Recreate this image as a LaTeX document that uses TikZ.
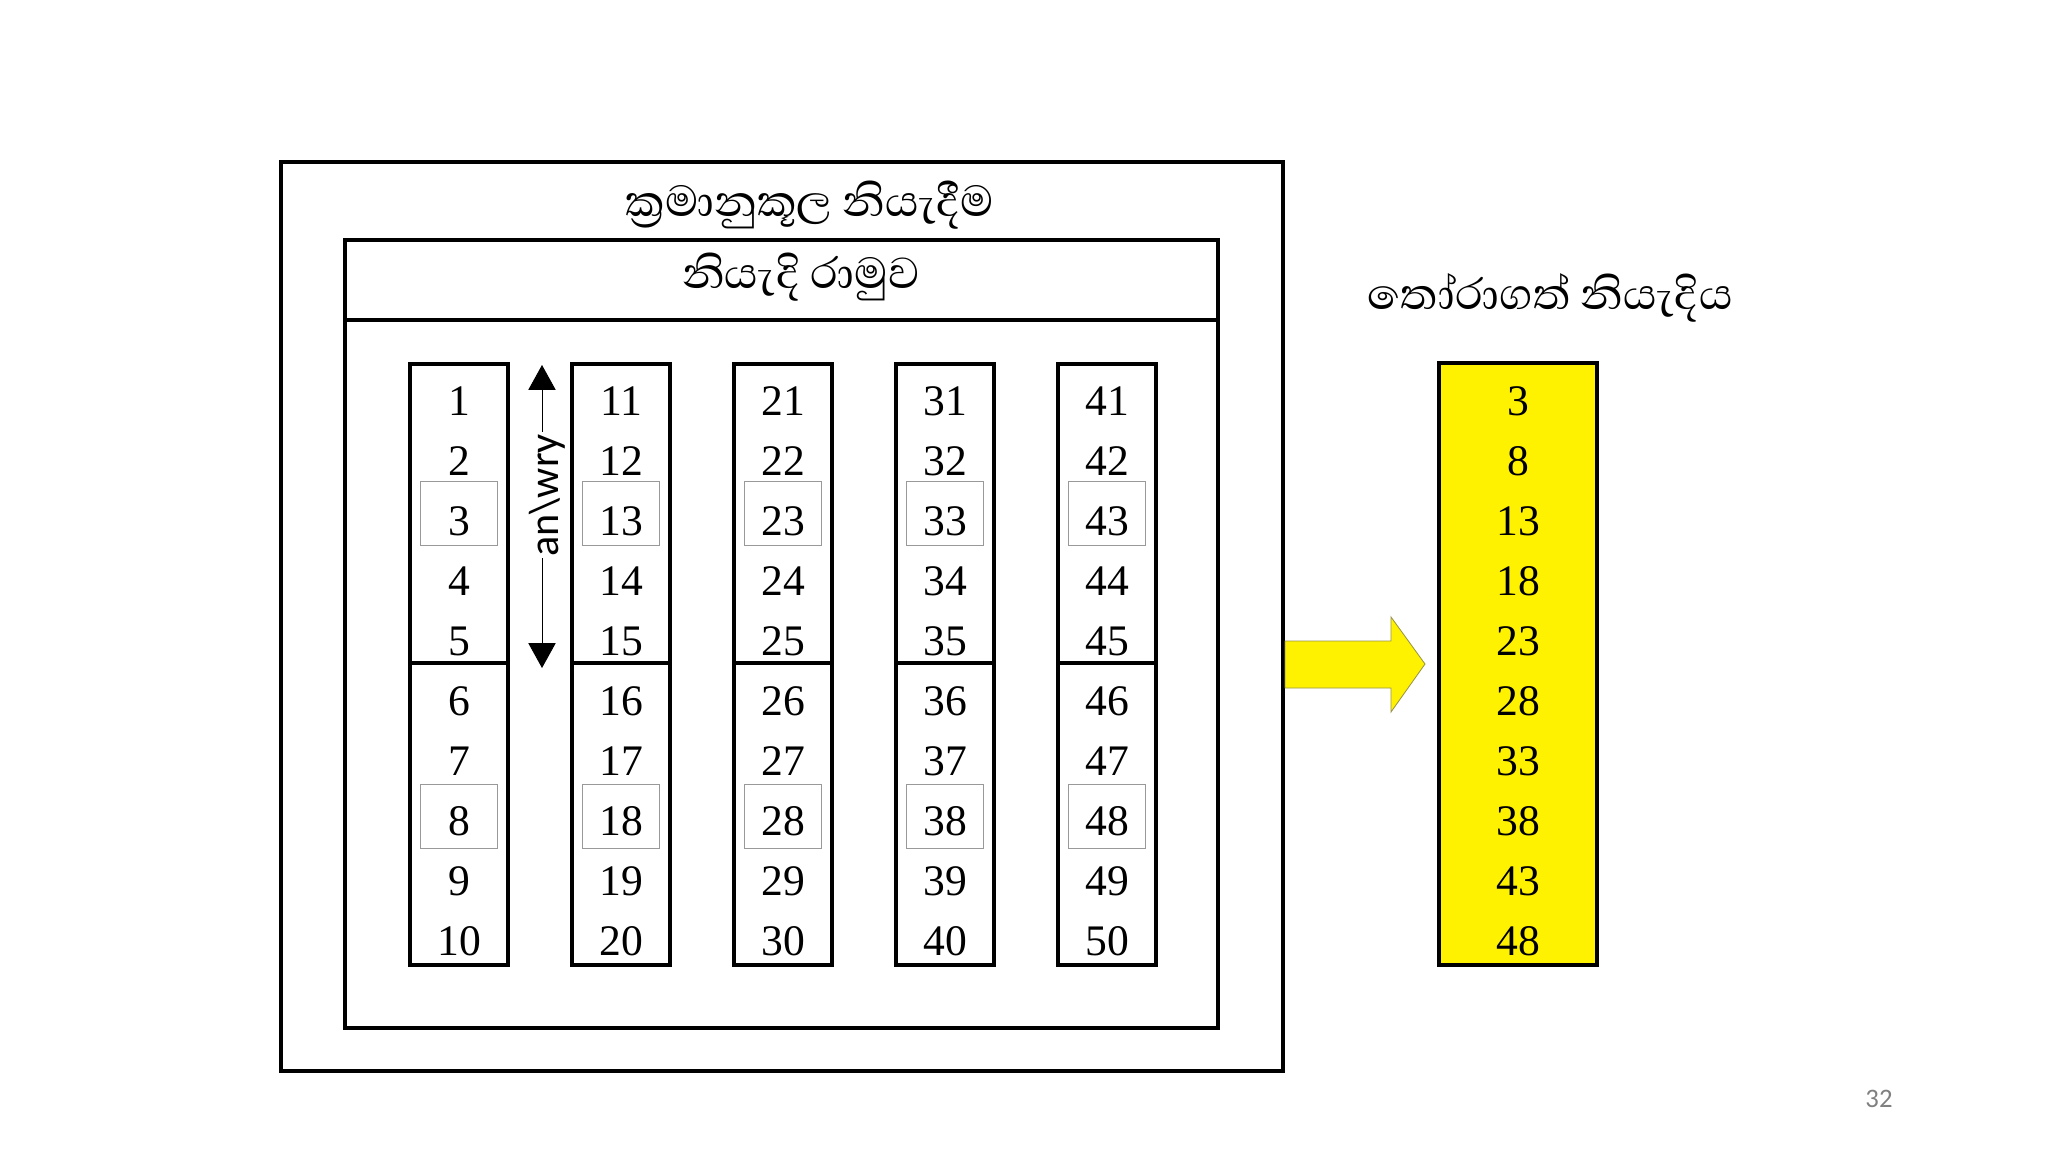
\documentclass[tikz,border=0pt]{standalone}
\usepackage{fontspec}
\setmainfont{Liberation Serif}
\newfontfamily\sinhala[Script=Sinhala]{Abhaya Libre}
\newfontfamily\labelfont{Carlito}
\usetikzlibrary{positioning, calc, arrows.meta}

\begin{document}
\begin{tikzpicture}[x=0.025cm, y=-0.025cm,
		num/.style={font=\fontsize{31}{31}\selectfont, inner sep=0pt},
		pick/.style={draw=gray!80, line width=0.7pt, minimum width=1.925cm, minimum height=1.6cm, inner sep=0pt},
		title/.style={font=\sinhala\fontsize{39.5}{39.5}\selectfont, inner sep=0pt},
		col/.style={line width=2.5pt},
		frame/.style={line width=3.5pt}]
	\useasboundingbox (0,0) rectangle (2048,1152);
	
	% systematic sampling frame
	\draw[frame] (281,162) rectangle (1283,1071);
	\node[title] (method) at (810,205) {ක්‍රමානුකූල නියැදීම};
	\draw[frame] (345,240) rectangle (1218,1028);
	\draw[frame] (345,320) -- (1218,320);
	\node[title] (list) at (801,277) {නියැදි රාමුව};
	
	% the population, five columns of ten
	\foreach \c in {0,...,4}{
		\draw[col] (410+162*\c,364) rectangle (508+162*\c,965);
		\draw[line width=3.2pt] (410+162*\c,663) -- (508+162*\c,663);
		\foreach \r in {1,...,10}{
			\pgfmathtruncatemacro\n{10*\c+\r}
			\node[num] (n\n) at (459+162*\c,341+60*\r) {\n};
		}
		\pgfmathtruncatemacro\a{10*\c+3}
		\pgfmathtruncatemacro\b{10*\c+8}
		\node[pick] (box\a) at (459+162*\c,513) {};
		\node[pick] (box\b) at (459+162*\c,816) {};
	}
	
	% interval
	\coordinate (gapTop) at (542,365);
	\coordinate (gapBot) at (542,668);
	\draw[{Triangle[length=0.62cm,width=0.68cm]}-{Triangle[length=0.62cm,width=0.68cm]}, line width=0.6pt]
		(gapTop) -- (gapBot) node[pos=.43, fill=white, rotate=90, inner sep=1pt, font=\labelfont\fontsize{30}{30}\selectfont, yshift=-4pt] (gap) {an\textbackslash wry};
	
	% selected sample
	\draw[fill=yellow, draw=yellow!55!black, line width=0.6pt] (1285,641) -- (1391,641) -- (1391,617) -- (1425,664) -- (1391,712) -- (1391,688) -- (1285,688) -- cycle;
	\node[title] (sample) at (1550,298) {තෝරාගත් නියැදිය};
	\draw[frame, fill=yellow] (1439,363) rectangle (1597,965);
	\foreach \r [count=\i from 0] in {1,...,10}{
		\pgfmathtruncatemacro\n{5*\i+3}
		\node[num] (s\n) at (1518,341+60*\r) {\n};
	}
	
	\node[font=\labelfont\fontsize{19}{19}\selectfont, text=gray] (page) at (1879,1099) {32};
\end{tikzpicture}
\end{document}
